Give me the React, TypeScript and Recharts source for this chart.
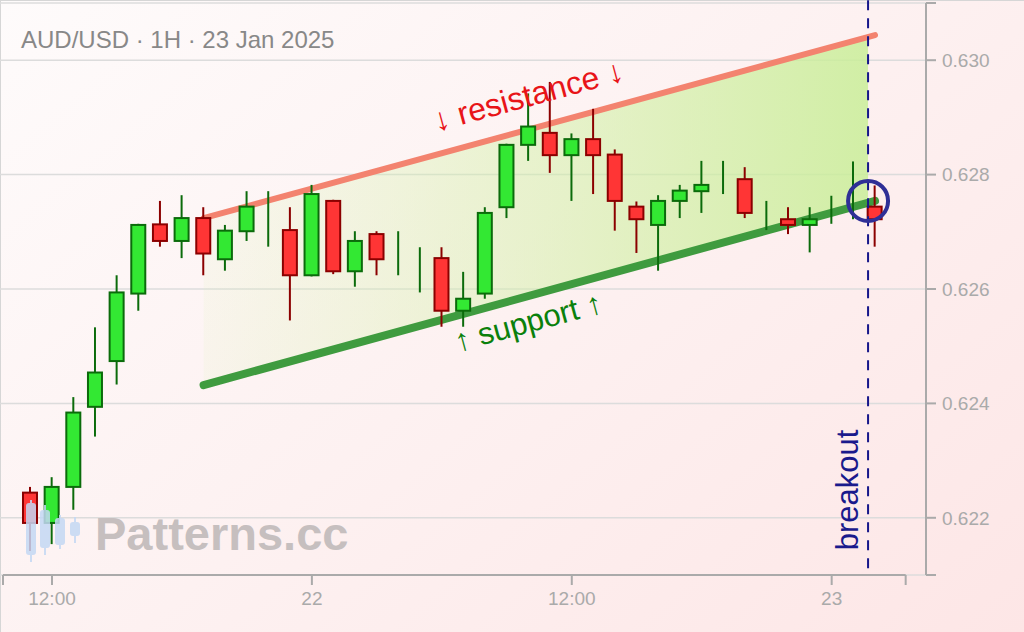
import {
  ComposedChart,
  Bar,
  Line,
  Area,
  XAxis,
  YAxis,
  CartesianGrid,
  ReferenceLine,
  ReferenceDot,
} from "recharts";

// AUD/USD hourly candles, from 21 Jan 11:00 to 23 Jan 02:00
const opens = [
  0.62244, 0.62191, 0.62254, 0.62394, 0.62474, 0.62592, 0.62713, 0.62684, 0.62724, 0.62652,
  0.62701, 0.6272, 0.62703, 0.62624, 0.62754, 0.62631, 0.62696, 0.6266, 0.6263, 0.62654,
  0.62562, 0.62592, 0.62743, 0.62852, 0.62873, 0.62834, 0.62862, 0.62835, 0.62744, 0.62712,
  0.62754, 0.62771, 0.6279, 0.62792, 0.6273, 0.62722, 0.62712, 0.6274, 0.6275, 0.62744,
];
const highs = [
  0.62254, 0.62271, 0.62411, 0.62533, 0.62624, 0.62714, 0.62754, 0.62764, 0.62743, 0.62712,
  0.62771, 0.62771, 0.62743, 0.62782, 0.62756, 0.62701, 0.62701, 0.62701, 0.62673, 0.62673,
  0.6263, 0.62743, 0.62854, 0.62942, 0.62962, 0.62872, 0.62915, 0.62844, 0.62753, 0.62764,
  0.62782, 0.62824, 0.62824, 0.62813, 0.62754, 0.62743, 0.62743, 0.62763, 0.62823, 0.62781,
];
const lows = [
  0.62142, 0.62154, 0.62214, 0.62342, 0.62433, 0.62562, 0.62674, 0.62654, 0.62624, 0.62632,
  0.62684, 0.62674, 0.62545, 0.62622, 0.62626, 0.62604, 0.62624, 0.62624, 0.62594, 0.62534,
  0.62534, 0.62583, 0.62724, 0.62824, 0.62803, 0.62754, 0.62766, 0.62702, 0.62663, 0.62632,
  0.62724, 0.62733, 0.62766, 0.62724, 0.62703, 0.62696, 0.62664, 0.62714, 0.62722, 0.62674,
];
const closes = [
  0.62191, 0.62254, 0.62384, 0.62454, 0.62594, 0.62712, 0.62684, 0.62724, 0.62662, 0.62702,
  0.62744, 0.6272, 0.62624, 0.62766, 0.62631, 0.62684, 0.62652, 0.6266, 0.6263, 0.62562,
  0.62583, 0.62733, 0.62852, 0.62884, 0.62834, 0.62862, 0.62834, 0.62754, 0.62722, 0.62754,
  0.62772, 0.62782, 0.6279, 0.62733, 0.6273, 0.62712, 0.62722, 0.6274, 0.6275, 0.62722,
];

// x tick positions (hour index) and labels
const tickHours = [1, 13, 25, 37];
const tickLabels = ["12:00", "22", "12:00", "23"];
const priceTicks = [0.622, 0.624, 0.626, 0.628, 0.63];

// channel lines
const resistanceHours = [8, 39];
const resistance = [0.62724, 0.63044];
const supportHours = [8, 39];
const support = [0.62432, 0.62754];
const channelHours = [8, 38.68];
const channelLow = [0.62432, 0.6275];
const channelHigh = [0.62724, 0.6304];

const breakoutHour = 38.68;
const breakoutPrice = 0.62754;

const candles = opens.map((o, i) => ({
  t: i,
  open: o,
  high: highs[i],
  low: lows[i],
  close: closes[i],
}));
const resistanceData = resistanceHours.map((t, i) => ({ t, v: resistance[i] }));
const supportData = supportHours.map((t, i) => ({ t, v: support[i] }));
const channelData = channelHours.map((t, i) => ({ t, lo: channelLow[i], hi: channelHigh[i] }));

const X_MIN = -1.401;
const X_MAX = 41.355;
const AXIS_START = -1.262;
const AXIS_END = 40.417;
const Y_MIN = 0.621;
const Y_MAX = 0.631;

function Candle(props: any) {
  const { x, y, width, height, payload } = props;
  if (x == null || y == null) return null;
  const { open, close, high, low } = payload;
  const top0 = Math.min(y, y + height);
  const h = Math.abs(height);
  const px = (v: number) => top0 + ((high - v) / (high - low)) * h;
  const cx = x + width / 2;
  const up = close >= open;
  const stroke = up ? "#0b6b0b" : "#8b0000";
  const fill = up ? "#33e833" : "#ff3535";
  const bt = px(Math.max(open, close));
  const bb = px(Math.min(open, close));
  return (
    <g>
      <line x1={cx} x2={cx} y1={top0} y2={top0 + h} stroke={stroke} strokeWidth={2} />
      {bb - bt > 0.5 && (
        <rect x={cx - 7} y={bt} width={14} height={bb - bt} fill={fill} stroke={stroke} strokeWidth={2} />
      )}
    </g>
  );
}

const axisGrey = "#aaaaaa";

export default function App() {
  return (
    <div
      style={{
        position: "absolute",
        left: 0,
        top: 0,
        width: 1024,
        height: 632,
        background: "linear-gradient(140deg, #fefbfb 0%, #fdf1f1 50%, #fde6e6 100%)",
        fontFamily: "'Liberation Sans', Arial, sans-serif",
        borderTop: "1px solid #d6d6d6",
        borderLeft: "1px solid #d6d6d6",
        boxSizing: "border-box",
      }}
    >
      <ComposedChart
        width={1024}
        height={632}
        data={candles}
        margin={{ top: 3, right: 0, bottom: 0, left: 0 }}
        style={{ position: "absolute", left: -1, top: -1 }}
      >
        <defs>
          <linearGradient id="chanFill" x1="0" y1="0" x2="1" y2="0">
            <stop offset="0%" stopColor="#d9f3b0" stopOpacity={0.12} />
            <stop offset="100%" stopColor="#c9ee98" stopOpacity={0.85} />
          </linearGradient>
        </defs>
        <CartesianGrid vertical={false} stroke="#dcdcdc" strokeWidth={1.5} />
        <XAxis
          type="number"
          dataKey="t"
          domain={[X_MIN, X_MAX]}
          allowDataOverflow
          ticks={[AXIS_START, ...tickHours, AXIS_END]}
          interval={0}
          tickFormatter={(v: number) => {
            const k = tickHours.indexOf(v);
            return k >= 0 ? tickLabels[k] : "";
          }}
          axisLine={false}
          tickLine={{ stroke: axisGrey, strokeWidth: 2 }}
          tickSize={10}
          tickMargin={7}
          tick={{ fill: axisGrey, fontSize: 19 }}
          height={57}
        />
        <YAxis
          orientation="right"
          type="number"
          domain={[Y_MIN, Y_MAX]}
          allowDataOverflow
          ticks={[Y_MIN, ...priceTicks, Y_MAX]}
          interval={0}
          tickFormatter={(v: number) => (priceTicks.includes(v) ? v.toFixed(3) : "")}
          axisLine={{ stroke: axisGrey, strokeWidth: 2 }}
          tickLine={{ stroke: axisGrey, strokeWidth: 2 }}
          tickSize={10}
          tickMargin={6}
          tick={{ fill: axisGrey, fontSize: 19 }}
          width={98}
        />
        <Area
          data={channelData}
          dataKey={(d: any) => [d.lo, d.hi]}
          type="linear"
          stroke="none"
          fill="url(#chanFill)"
          fillOpacity={1}
          isAnimationActive={false}
        />
        <Line
          data={resistanceData}
          dataKey="v"
          type="linear"
          stroke="#f3836f"
          strokeWidth={6}
          strokeLinecap="round"
          dot={false}
          isAnimationActive={false}
        />
        <Line
          data={supportData}
          dataKey="v"
          type="linear"
          stroke="#3f9b3f"
          strokeWidth={8}
          strokeLinecap="round"
          dot={false}
          isAnimationActive={false}
        />
        <Bar
          dataKey={(d: any) => [d.low, d.high]}
          barSize={16}
          shape={<Candle />}
          isAnimationActive={false}
          zIndex={450}
        />
        <ReferenceLine
          segment={[
            { x: AXIS_START, y: Y_MIN },
            { x: AXIS_END, y: Y_MIN },
          ]}
          stroke={axisGrey}
          strokeWidth={2}
          ifOverflow="visible"
        />
        <ReferenceLine
          segment={[
            { x: breakoutHour, y: 0.63105 },
            { x: breakoutHour, y: 0.62109 },
          ]}
          stroke="#16168a"
          strokeWidth={2}
          strokeDasharray="10 8"
          ifOverflow="visible"
          zIndex={500}
        />
        <ReferenceDot
          x={breakoutHour}
          y={breakoutPrice}
          r={20}
          fill="none"
          stroke="#2f2f96"
          strokeWidth={4}
          ifOverflow="visible"
          zIndex={600}
        />
      </ComposedChart>
      <svg
        width={1024}
        height={632}
        style={{ position: "absolute", left: -1, top: -1, pointerEvents: "none" }}
      >
        <text x={21} y={48} fontSize={24} fill="#888888">
          AUD/USD · 1H · 23 Jan 2025
        </text>
        <g fill="#c4d8f4" opacity={0.85}>
          <rect x={40} y={510} width={10} height={38} rx={3} />
          <rect x={44} y={505} width={2} height={50} />
          <rect x={26} y={503} width={10} height={52} rx={3} />
          <rect x={30} y={500} width={2} height={62} />
          <rect x={55} y={518} width={10} height={27} rx={3} />
          <rect x={59} y={515} width={2} height={34} />
          <rect x={70} y={522} width={10} height={14} rx={3} />
          <rect x={74} y={517} width={2} height={26} />
        </g>
        <text x={95} y={550} fontSize={47} fontWeight="bold" fill="#c6bfbf">
          Patterns.cc
        </text>
        <text
          x={531}
          y={106}
          fontSize={32}
          fill="#e81418"
          textAnchor="middle"
          transform="rotate(-15.2 531 106)"
        >
          ↓ resistance ↓
        </text>
        <text
          x={531}
          y={332}
          fontSize={31}
          fill="#0b800b"
          textAnchor="middle"
          transform="rotate(-15.2 531 332)"
        >
          ↑ support ↑
        </text>
        <text
          x={858}
          y={490}
          fontSize={31}
          fill="#1a1a8c"
          textAnchor="middle"
          transform="rotate(-90 858 490)"
        >
          breakout
        </text>
      </svg>
    </div>
  );
}
